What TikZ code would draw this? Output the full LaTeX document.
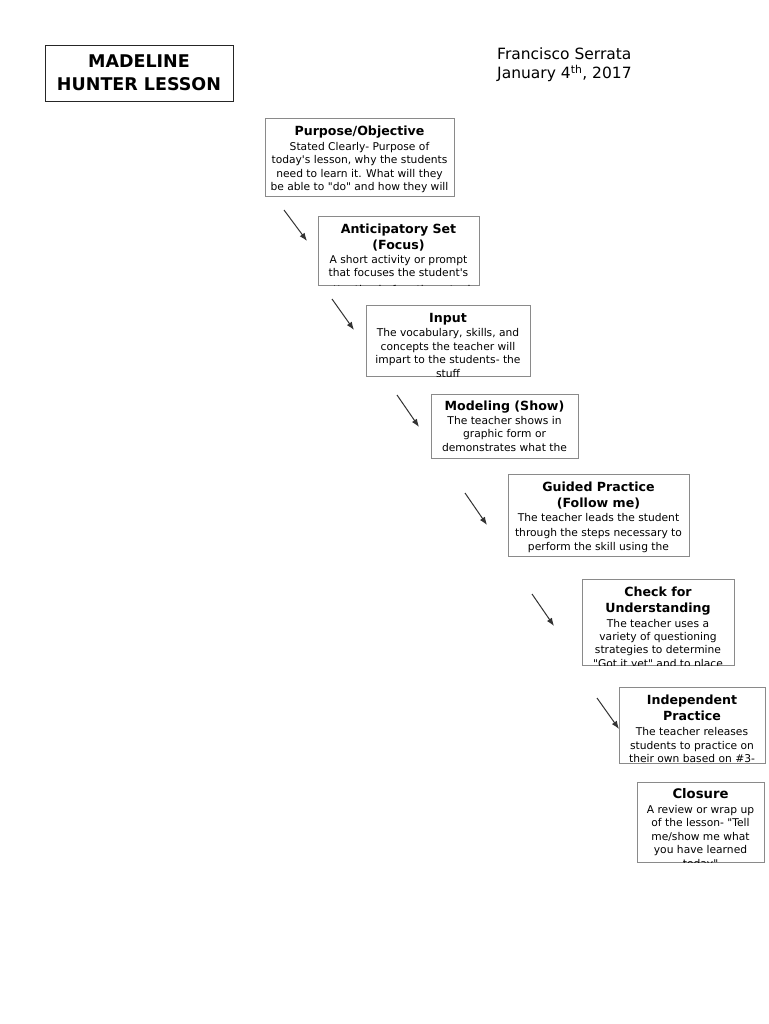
\documentclass[tikz,border=0pt]{standalone}
\usepackage{fontspec}
\setmainfont{DejaVu Sans}[Ligatures=TeXOff]
\usetikzlibrary{arrows.meta}
\definecolor{boxgray}{HTML}{8A8A8A}
\definecolor{arrowgray}{HTML}{333333}
\tikzset{
  box/.style={draw=boxgray, line width=0.8pt, inner sep=0pt, outer sep=0pt, anchor=north west, fill=white},
  headbox/.style={draw=black!85, line width=1pt, inner sep=0pt, outer sep=0pt, anchor=north west},
  ttl/.style={align=center, inner sep=0pt, anchor=north, text depth=3.5pt, font=\bfseries\fontsize{12.6}{16}\selectfont},
  body/.style={align=center, inner sep=0pt, anchor=north, font=\fontsize{10.7}{13.4}\selectfont},
  arr/.style={draw=arrowgray, line width=1pt, -{Latex[length=8pt,width=6pt]}}
}
\begin{document}
\begin{tikzpicture}[x=1pt,y=-1pt]
\useasboundingbox (0,0) rectangle (768,1024);
\fill[white] (0,0) rectangle (768,1024);

% header
\node[headbox, minimum width=188pt, minimum height=56pt] (head) at (45,46) {};
\node[align=center, inner sep=0pt, font=\bfseries\fontsize{17.5}{23}\selectfont] (headtxt) at ([yshift=1pt]head.center) {MADELINE\\HUNTER LESSON};
\node[align=left, inner sep=0pt, anchor=north west, font=\fontsize{15.5}{19}\selectfont] (author) at (497,47.5) {Francisco Serrata\\January 4\textsuperscript{th}, 2017};

% boxes
\node[box, minimum width=189pt, minimum height=78pt] (b1) at (265,118) {};
\node[box, minimum width=161pt, minimum height=69pt] (b2) at (318,216) {};
\node[box, minimum width=164pt, minimum height=71pt] (b3) at (366,305) {};
\node[box, minimum width=147pt, minimum height=64pt] (b4) at (431,394) {};
\node[box, minimum width=181pt, minimum height=82pt] (b5) at (508,474) {};
\node[box, minimum width=152pt, minimum height=86pt] (b6) at (582,579) {};
\node[box, minimum width=146pt, minimum height=76pt] (b7) at (619,687) {};
\node[box, minimum width=127pt, minimum height=80pt] (b8) at (637,782) {};

% box texts (clipped to the boxes)
\begin{scope}
\clip (b1.north west) rectangle (b1.south east);
\node[ttl] (t1) at ([yshift=-8pt]b1.north) {Purpose/Objective};
\node[body] (x1) at ([yshift=-2.5pt]t1.south) {Stated Clearly- Purpose of\\today's lesson, why the students\\need to learn it. What will they\\be able to "do" and how they will};
\end{scope}
\begin{scope}
\clip (b2.north west) rectangle (b2.south east);
\node[ttl] (t2) at ([yshift=-8pt]b2.north) {Anticipatory Set\\(Focus)};
\node[body] (x2) at ([yshift=-1.5pt]t2.south) {A short activity or prompt\\that focuses the student's\\[3pt]attention before the actual};
\end{scope}
\begin{scope}
\clip (b3.north west) rectangle (b3.south east);
\node[ttl] (t3) at ([yshift=-8pt]b3.north) {Input};
\node[body] (x3) at ([yshift=-2.5pt]t3.south) {The vocabulary, skills, and\\concepts the teacher will\\impart to the students- the\\stuff};
\end{scope}
\begin{scope}
\clip (b4.north west) rectangle (b4.south east);
\node[ttl] (t4) at ([yshift=-7.2pt]b4.north) {Modeling (Show)};
\node[body] (x4) at ([yshift=-1.3pt]t4.south) {The teacher shows in\\graphic form or\\demonstrates what the};
\end{scope}
\begin{scope}
\clip (b5.north west) rectangle (b5.south east);
\node[ttl] (t5) at ([yshift=-8pt]b5.north) {Guided Practice\\(Follow me)};
\node[body, font=\fontsize{10.7}{14.2}\selectfont] (x5) at ([yshift=-2pt]t5.south) {The teacher leads the student\\through the steps necessary to\\perform the skill using the};
\end{scope}
\begin{scope}
\clip (b6.north west) rectangle (b6.south east);
\node[ttl] (t6) at ([yshift=-8pt]b6.north) {Check for\\Understanding};
\node[body] (x6) at ([yshift=-2.2pt]t6.south) {The teacher uses a\\variety of questioning\\strategies to determine\\"Got it yet" and to place};
\end{scope}
\begin{scope}
\clip (b7.north west) rectangle (b7.south east);
\node[ttl] (t7) at ([yshift=-8pt]b7.north) {Independent\\Practice};
\node[body] (x7) at ([yshift=-2.8pt]t7.south) {The teacher releases\\students to practice on\\their own based on \#3-};
\end{scope}
\begin{scope}
\clip (b8.north west) rectangle (b8.south east);
\node[ttl, font=\bfseries\fontsize{13.2}{16}\selectfont] (t8) at ([yshift=-6pt]b8.north) {Closure};
\node[body] (x8) at ([yshift=-3.2pt]t8.south) {A review or wrap up\\of the lesson- "Tell\\me/show me what\\you have learned\\today"};
\end{scope}

% arrows
\coordinate (s1) at (284,210); \coordinate (e1) at (307,241);
\coordinate (s2) at (332,299); \coordinate (e2) at (354,330);
\coordinate (s3) at (397,395); \coordinate (e3) at (419,427);
\coordinate (s4) at (465,493); \coordinate (e4) at (487,525);
\coordinate (s5) at (532,594); \coordinate (e5) at (554,626);
\coordinate (s6) at (597,698); \coordinate (e6) at (619,729);
\draw[arr] (s1) -- (e1);
\draw[arr] (s2) -- (e2);
\draw[arr] (s3) -- (e3);
\draw[arr] (s4) -- (e4);
\draw[arr] (s5) -- (e5);
\draw[arr] (s6) -- (e6);
\end{tikzpicture}
\end{document}
